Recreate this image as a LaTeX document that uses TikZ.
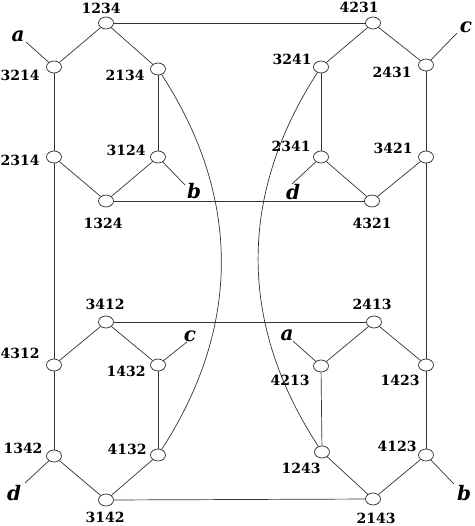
\documentclass[tikz,border=0pt]{standalone}
\usepackage{fontspec}
\setmainfont{DejaVu Serif}
\usetikzlibrary{shapes.geometric}
\begin{document}
\begin{tikzpicture}[x=1pt,y=-1pt,
  vtx/.style={draw=black!85,ellipse,minimum width=15pt,minimum height=12pt,inner sep=0pt,line width=0.7pt,fill=white},
  lbl/.style={font=\fontsize{14}{14}\selectfont\bfseries,inner sep=0pt},
  let/.style={font=\fontsize{20}{20}\selectfont\bfseries\itshape,inner sep=0pt},
  edge/.style={line width=0.7pt,draw=black!80}]
\useasboundingbox (0,0) rectangle (474,526);
% vertices
\node[vtx] (v1234) at (106,23) {};
\node[vtx] (v3214) at (54,67) {};
\node[vtx] (v2134) at (158,69) {};
\node[vtx] (v2314) at (54,157) {};
\node[vtx] (v3124) at (158,157) {};
\node[vtx] (v1324) at (106,201) {};
\node[vtx] (v4231) at (373,23) {};
\node[vtx] (v3241) at (321,67) {};
\node[vtx] (v2431) at (426,65) {};
\node[vtx] (v2341) at (321,157) {};
\node[vtx] (v3421) at (426,157) {};
\node[vtx] (v4321) at (372,201) {};
\node[vtx] (v3412) at (106,322) {};
\node[vtx] (v4312) at (54,365) {};
\node[vtx] (v1432) at (158,365) {};
\node[vtx] (v1342) at (54,456) {};
\node[vtx] (v4132) at (158,455) {};
\node[vtx] (v3142) at (106,500) {};
\node[vtx] (v2413) at (374,322) {};
\node[vtx] (v4213) at (321,366) {};
\node[vtx] (v1423) at (426,365) {};
\node[vtx] (v1243) at (322,452) {};
\node[vtx] (v4123) at (426,455) {};
\node[vtx] (v2143) at (373,499) {};
% pendant ends
\coordinate (pa1) at (26,42);
\coordinate (pb1) at (185,185);
\coordinate (pc1) at (457,33);
\coordinate (pd1) at (292,184);
\coordinate (pc2) at (187,342);
\coordinate (pd2) at (25,483);
\coordinate (pa2) at (293,341);
\coordinate (pb2) at (454,484);
% edges
\draw[edge] (v1234) -- (v3214);
\draw[edge] (v1234) -- (v2134);
\draw[edge] (v3214) -- (v2314);
\draw[edge] (v2134) -- (v3124);
\draw[edge] (v2314) -- (v1324);
\draw[edge] (v3124) -- (v1324);
\draw[edge] (v4231) -- (v3241);
\draw[edge] (v4231) -- (v2431);
\draw[edge] (v3241) -- (v2341);
\draw[edge] (v2431) -- (v3421);
\draw[edge] (v2341) -- (v4321);
\draw[edge] (v3421) -- (v4321);
\draw[edge] (v3412) -- (v4312);
\draw[edge] (v3412) -- (v1432);
\draw[edge] (v4312) -- (v1342);
\draw[edge] (v1432) -- (v4132);
\draw[edge] (v1342) -- (v3142);
\draw[edge] (v4132) -- (v3142);
\draw[edge] (v2413) -- (v4213);
\draw[edge] (v2413) -- (v1423);
\draw[edge] (v4213) -- (v1243);
\draw[edge] (v1423) -- (v4123);
\draw[edge] (v1243) -- (v2143);
\draw[edge] (v4123) -- (v2143);
\draw[edge] (v1234) -- (v4231);
\draw[edge] (v1324) -- (v4321);
\draw[edge] (v3412) -- (v2413);
\draw[edge] (v3142) -- (v2143);
\draw[edge] (v2314) -- (v4312);
\draw[edge] (v3421) -- (v1423);
\draw[edge] (v2134) to[bend left=33] (v4132);
\draw[edge] (v3241) to[bend right=33] (v1243);
\draw[edge] (v3214) -- (pa1);
\draw[edge] (v3124) -- (pb1);
\draw[edge] (v2431) -- (pc1);
\draw[edge] (v2341) -- (pd1);
\draw[edge] (v1432) -- (pc2);
\draw[edge] (v1342) -- (pd2);
\draw[edge] (v4213) -- (pa2);
\draw[edge] (v4123) -- (pb2);
% labels
\node[lbl] (l1234) at (101,8) {1234};
\node[lbl] (l4231) at (359,7) {4231};
\node[lbl] (l3214) at (20,75) {3214};
\node[lbl] (l2134) at (125,75) {2134};
\node[lbl] (l3241) at (292,59) {3241};
\node[lbl] (l2431) at (392,72) {2431};
\node[lbl] (l2314) at (20,160) {2314};
\node[lbl] (l3124) at (126,150) {3124};
\node[lbl] (l2341) at (291,146) {2341};
\node[lbl] (l3421) at (393,148) {3421};
\node[lbl] (l1324) at (103,223.5) {1324};
\node[lbl] (l4321) at (372,223.5) {4321};
\node[lbl] (l3412) at (105,304) {3412};
\node[lbl] (l2413) at (372,304) {2413};
\node[lbl] (l4312) at (20,353) {4312};
\node[lbl] (l1432) at (126,371) {1432};
\node[lbl] (l4213) at (290,380) {4213};
\node[lbl] (l1423) at (400,380) {1423};
\node[lbl] (l1342) at (23,448) {1342};
\node[lbl] (l4132) at (127,449) {4132};
\node[lbl] (l1243) at (301,468) {1243};
\node[lbl] (l4123) at (397,446) {4123};
\node[lbl] (l3142) at (105,517) {3142};
\node[lbl] (l2143) at (376,518) {2143};
\node[let] (la1) at (18,36) {a};
\node[let] (lc1) at (466,27) {c};
\node[let] (lb1) at (194,191) {b};
\node[let] (ld1) at (293,192) {d};
\node[let] (lc2) at (190,336) {c};
\node[let] (la2) at (287,335) {a};
\node[let] (ld2) at (14,493) {d};
\node[let] (lb2) at (464,493) {b};
\end{tikzpicture}
\end{document}
